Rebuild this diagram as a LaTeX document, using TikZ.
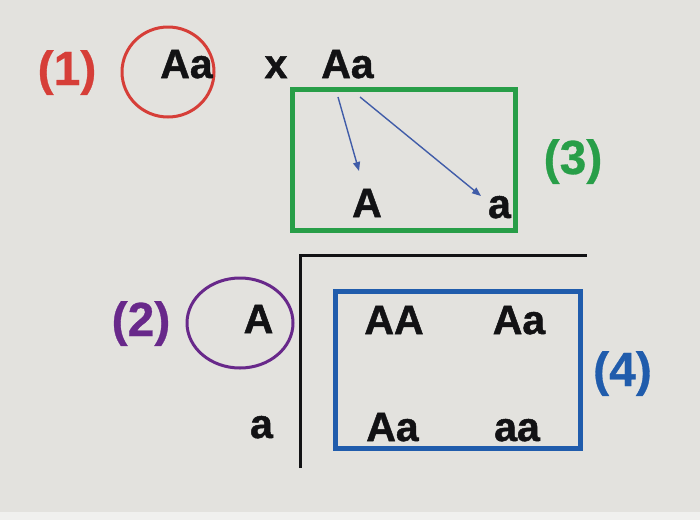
\documentclass[tikz,border=0pt]{standalone}
\usepackage{fontspec}
\setmainfont{Liberation Sans}
\newfontfamily\heavyfont{Liberation Sans Bold}[FakeBold=1.2]
\newfontfamily\labfont{Liberation Sans Bold}[FakeBold=0.6]
\usetikzlibrary{shapes.geometric,arrows.meta}
\definecolor{bgc}{RGB}{227,226,222}
\definecolor{bgb}{RGB}{240,240,238}
\definecolor{ink}{RGB}{18,18,20}
\definecolor{redc}{RGB}{214,62,56}
\definecolor{greenc}{RGB}{40,158,72}
\definecolor{purplec}{RGB}{104,40,138}
\definecolor{bluec}{RGB}{32,92,172}
\definecolor{arrowc}{RGB}{64,92,168}
\tikzset{
  gene/.style={anchor=base,inner sep=0pt,text=ink,font=\heavyfont\fontsize{41}{41}\selectfont},
  lab/.style={anchor=base,inner sep=0pt,font=\labfont\fontsize{48}{48}\selectfont},
  ring/.style={ellipse,draw,line width=3pt,inner sep=0pt},
  boxline/.style={line width=5pt},
  arr/.style={draw=arrowc,line width=1.4pt,-{Triangle[length=9pt,width=7pt]}},
}
\begin{document}
\begin{tikzpicture}[x=1pt,y=-1pt]
\fill[bgc] (0,0) rectangle (700,520);
\fill[bgb] (0,512) rectangle (700,520);
\useasboundingbox (0,0) rectangle (700,520);
% top row
\node[lab,text=redc] (lab1) at (67,85) {(1)};
\node[ring,draw=redc,minimum width=92pt,minimum height=90pt] (c1) at (168,72) {};
\node[gene] (p1a) at (186.5,78) {Aa};
\node[gene] (xx) at (276,78) {x};
\node[gene] (p1b) at (347.5,78) {Aa};
% green box
\coordinate (g1) at (292,89);
\coordinate (g2) at (515,230);
\draw[greenc,boxline] (g1) rectangle (g2);
\node[gene] (gA) at (367,217) {A};
\node[gene] (ga) at (499.5,218) {a};
\coordinate (s1) at (338,97);
\coordinate (e1) at (359,171);
\coordinate (s2) at (360,97);
\coordinate (e2) at (481,196);
\draw[arr] (s1) -- (e1);
\draw[arr] (s2) -- (e2);
\node[lab,text=greenc] (lab3) at (573,174) {(3)};
% Punnett frame
\coordinate (f1) at (300,468);
\coordinate (f2) at (300,255);
\coordinate (f3) at (587,255);
\draw[ink,line width=3pt] (f1) -- (f2) -- (f3);
\node[lab,text=purplec] (lab2) at (141,336) {(2)};
\node[ring,draw=purplec,minimum width=106pt,minimum height=90pt] (c2) at (240,323) {};
\node[gene] (A2) at (258.5,333) {A};
\node[gene] (a2) at (261.5,438) {a};
% blue box
\coordinate (b1) at (335,291);
\coordinate (b2) at (580,448);
\draw[bluec,boxline] (b1) rectangle (b2);
\node[gene] (AA) at (394,334) {AA};
\node[gene] (Aa1) at (519,334) {Aa};
\node[gene] (Aa2) at (392.5,441) {Aa};
\node[gene] (aa) at (517,441) {aa};
\node[lab,text=bluec] (lab4) at (622.5,386) {(4)};
\end{tikzpicture}
\end{document}
